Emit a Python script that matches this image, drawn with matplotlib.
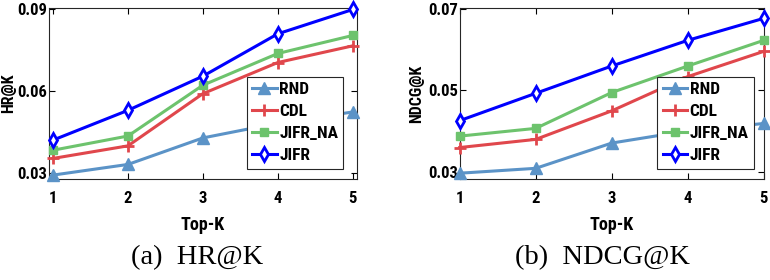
import matplotlib
matplotlib.use("Agg")
import matplotlib.pyplot as plt
from matplotlib import font_manager

k = [1, 2, 3, 4, 5]
methods = ["RND", "CDL", "JIFR_NA", "JIFR"]

hr_rnd = [0.0293, 0.0332, 0.0429, 0.0483, 0.0524]
hr_cdl = [0.0354, 0.0400, 0.0591, 0.0705, 0.0766]
hr_jifr_na = [0.0384, 0.0436, 0.0622, 0.0738, 0.0804]
hr_jifr = [0.0421, 0.0530, 0.0655, 0.0810, 0.0899]

ndcg_rnd = [0.0296, 0.0308, 0.0370, 0.0400, 0.0418]
ndcg_cdl = [0.0359, 0.0379, 0.0449, 0.0533, 0.0595]
ndcg_jifr_na = [0.0387, 0.0406, 0.0494, 0.0559, 0.0622]
ndcg_jifr = [0.0425, 0.0492, 0.0559, 0.0622, 0.0676]

hr_ticks = [0.03, 0.06, 0.09]
hr_ticklabels = ["0.03", "0.06", "0.09"]
ndcg_ticks = [0.03, 0.05, 0.07]
ndcg_ticklabels = ["0.03", "0.05", "0.07"]

colors = ["#5B93C7", "#E0474C", "#6DC36D", "#0000FF"]
markers = ["^", "+", "s", "d"]
msizes = [8, 9, 5.5, 7.5]

# pick a condensed bold sans if one is present, else Liberation Sans
candidates = ["Liberation Sans Narrow", "Arial Narrow", "Nimbus Sans Narrow",
              "Roboto Condensed", "IBM Plex Sans Condensed", "Fira Sans Condensed",
              "Asap Condensed", "PT Sans Narrow"]
bold_static = {}
for f in font_manager.fontManager.ttflist:
    w = f.weight if isinstance(f.weight, int) else 400
    if w == 700 and "[" not in f.fname and "talic" not in f.fname and f.style == "normal":
        bold_static.setdefault(f.name, f.fname)
sans = "Liberation Sans"
narrow = False
for c in candidates:
    if c in bold_static:
        sans = c
        narrow = True
        break

fs_tick = 12 if narrow else 10.5
fs_lab = 13 if narrow else 10.5
fs_ylab = 11.5 if narrow else 10
fs_leg = 12.5 if narrow else 9.5

fig = plt.figure(figsize=(7.7, 2.8), dpi=100)
ax1 = fig.add_axes([0.063, 0.361, 0.401, 0.61])
ax2 = fig.add_axes([0.597, 0.361, 0.395, 0.61])


def draw(ax, series, ticks, ticklabels, ylim, xlim, ylabel, legx, labx):
    for s, name, c, m, ms in zip(series, methods, colors, markers, msizes):
        kw = dict(color=c, lw=2.2, marker=m, ms=ms,
                  label=name, clip_on=False, zorder=3)
        if m == "d":
            kw.update(mfc="white", mec=c, mew=2)
        elif m == "+":
            kw.update(mew=2)
        else:
            kw.update(mfc=c, mec=c)
        ax.plot(k, s, **kw)
    ax.set_xlim(*xlim)
    ax.set_ylim(*ylim)
    ax.set_xticks(k)
    ax.set_xticklabels([str(v) for v in k], fontfamily=sans, fontweight="bold", fontsize=fs_tick)
    ax.set_yticks(ticks)
    ax.set_yticklabels(ticklabels, fontfamily=sans, fontweight="bold", fontsize=fs_tick)
    ax.tick_params(direction="in", top=True, right=True, length=4, width=0.8)
    ax.tick_params(axis="x", pad=9)
    ax.tick_params(axis="y", pad=1)
    for sp in ax.spines.values():
        sp.set_linewidth(0.8)
        sp.set_color("#262626")
    ax.set_xlabel("Top-K", fontfamily=sans, fontweight="bold", fontsize=fs_lab, labelpad=7)
    ax.set_ylabel(ylabel, fontfamily=sans, fontweight="bold", fontsize=fs_ylab, va="center")
    ax.yaxis.set_label_coords(labx, 0.5)
    leg = ax.legend(loc="lower right", bbox_to_anchor=(legx, 0.06),
                    prop=dict(family=sans, weight="bold", size=fs_leg),
                    fancybox=False, framealpha=1, edgecolor="#262626",
                    handlelength=1.4, handletextpad=0.15, borderpad=0.3,
                    labelspacing=0.4, borderaxespad=0.0)
    leg.get_frame().set_linewidth(0.8)
    leg.set_zorder(5)


draw(ax1, [hr_rnd, hr_cdl, hr_jifr_na, hr_jifr], hr_ticks, hr_ticklabels,
     (0.0279, 0.0904), (0.94, 5.06), "HR@K", 0.955, -0.128)
draw(ax2, [ndcg_rnd, ndcg_cdl, ndcg_jifr_na, ndcg_jifr], ndcg_ticks, ndcg_ticklabels,
     (0.0282, 0.0701), (1.0, 5.0), "NDCG@K", 0.967, -0.14)

fig.text(0.256, 0.079, "(a)  HR@K", ha="center", va="center",
         fontfamily="Liberation Serif", fontsize=20.5)
fig.text(0.782, 0.079, "(b)  NDCG@K", ha="center", va="center",
         fontfamily="Liberation Serif", fontsize=20.5)

fig.savefig("out.png", dpi=100)
